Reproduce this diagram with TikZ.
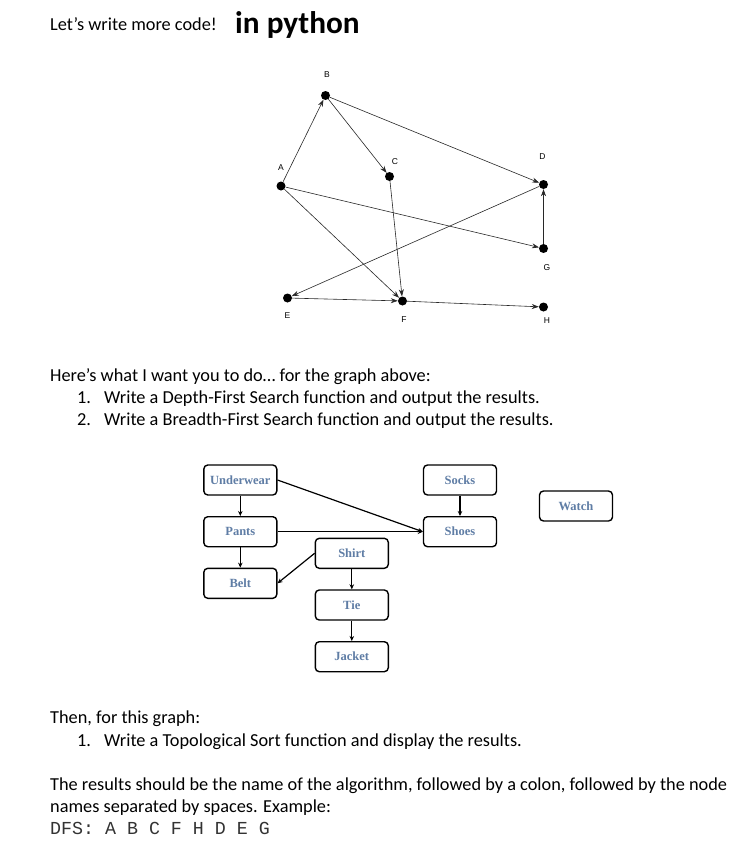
\documentclass[tikz,border=0pt]{standalone}
\usepackage{fontspec}
\setmainfont{Carlito}
\newfontfamily\arialf{Liberation Sans}
\newfontfamily\timesf{Liberation Serif}
\newfontfamily\courf{Liberation Mono}
\usetikzlibrary{arrows.meta}
\definecolor{boxtext}{RGB}{95,125,165}
\definecolor{edgegray}{RGB}{40,40,40}
\tikzset{
  gdot/.style={circle,fill=black,minimum size=9pt,inner sep=0pt},
  glabel/.style={font=\arialf\fontsize{8.5}{9}\selectfont,inner sep=0pt},
  garrow/.style={draw=edgegray,line width=0.6pt,-{Stealth[length=7pt,width=5pt]}},
  tbox/.style={draw=black,line width=1.4pt,rounded corners=4pt,minimum width=73pt,minimum height=30pt,inner sep=0pt,
     font=\timesf\bfseries\fontsize{12.5}{13}\selectfont,text=boxtext,fill=white},
  tarrow/.style={draw=black,line width=1.2pt,-{Stealth[length=5pt,width=4.5pt]}},
  body/.style={anchor=base west,inner sep=0pt,font=\fontsize{18.3}{20}\selectfont},
}
\begin{document}
\begin{tikzpicture}[x=1pt,y=-1pt]
\path[use as bounding box,fill=white] (0,0) rectangle (753,867);

% header
\node[body] (hdr) at (50,31) {Let’s write more code!};
\node[anchor=base west,inner sep=0pt,font=\bfseries\fontsize{31.3}{33}\selectfont] (py) at (235,34) {in python};

% graph 1
\node[gdot] (A) at (281,186) {};
\node[gdot] (B) at (325.5,95.5) {};
\node[gdot] (C) at (389.5,176.5) {};
\node[gdot] (D) at (543.5,184.5) {};
\node[gdot] (G) at (543.5,248.5) {};
\node[gdot] (E) at (287.5,298) {};
\node[gdot] (F) at (402.5,301) {};
\node[gdot] (H) at (543.5,307) {};
\node[glabel] (lA) at (281,168) {A};
\node[glabel] (lB) at (327,75) {B};
\node[glabel] (lC) at (395,162) {C};
\node[glabel] (lD) at (542.5,157) {D};
\node[glabel] (lG) at (547,268) {G};
\node[glabel] (lE) at (287.5,316) {E};
\node[glabel] (lF) at (404,320) {F};
\node[glabel] (lH) at (547,321) {H};
\draw[garrow] (A) -- (B);
\draw[garrow] (B) -- (C);
\draw[garrow] (B) -- (D);
\draw[garrow] (A) -- (G);
\draw[garrow] (A) -- (F);
\draw[garrow] (C) -- (F);
\draw[garrow] (D) -- (E);
\draw[garrow] (E) -- (F);
\draw[garrow] (F) -- (H);
\draw[garrow] (G) -- (D);

% text block 1
\node[body] (t1) at (50,381) {Here’s what I want you to do… for the graph above:};
\node[body] (n1) at (77,403) {1.};
\node[body] (i1) at (104,403) {Write a Depth-First Search function and output the results.};
\node[body] (n2) at (77,425) {2.};
\node[body] (i2) at (104,425) {Write a Breadth-First Search function and output the results.};

% graph 2
\node[tbox] (U) at (240.3,480) {Underwear};
\node[tbox] (So) at (460,480) {Socks};
\node[tbox] (W) at (576,506) {Watch};
\node[tbox] (P) at (240.3,531.7) {Pants};
\node[tbox] (Sh) at (460,531.7) {Shoes};
\node[tbox] (Si) at (351.8,553.3) {Shirt};
\node[tbox] (Be) at (240.3,583.3) {Belt};
\node[tbox] (T) at (351.8,605) {Tie};
\node[tbox] (J) at (351.8,656.7) {Jacket};
\draw[tarrow] (U) -- (P);
\draw[tarrow] (P) -- (Be);
\draw[tarrow] (So) -- (Sh);
\draw[tarrow] (Si) -- (T);
\draw[tarrow] (T) -- (J);
\draw[tarrow] (U.east) -- (Sh.west);
\draw[tarrow] (P.east) -- (Sh.west);
\draw[tarrow] (Si.west) -- (Be.east);

% text block 2
\node[body] (t2) at (50,723) {Then, for this graph:};
\node[body] (n3) at (77,746) {1.};
\node[body] (i3) at (104,746) {Write a Topological Sort function and display the results.};
\node[body] (t3) at (50,790) {The results should be the name of the algorithm, followed by a colon, followed by the node};
\node[body] (t4) at (50,812) {names separated by spaces. Example:};
\node[anchor=base west,inner sep=0pt,font=\courf\fontsize{18.3}{20}\selectfont,text=black!80] (dfs) at (50,834) {DFS: A B C F H D E G};
\end{tikzpicture}
\end{document}
